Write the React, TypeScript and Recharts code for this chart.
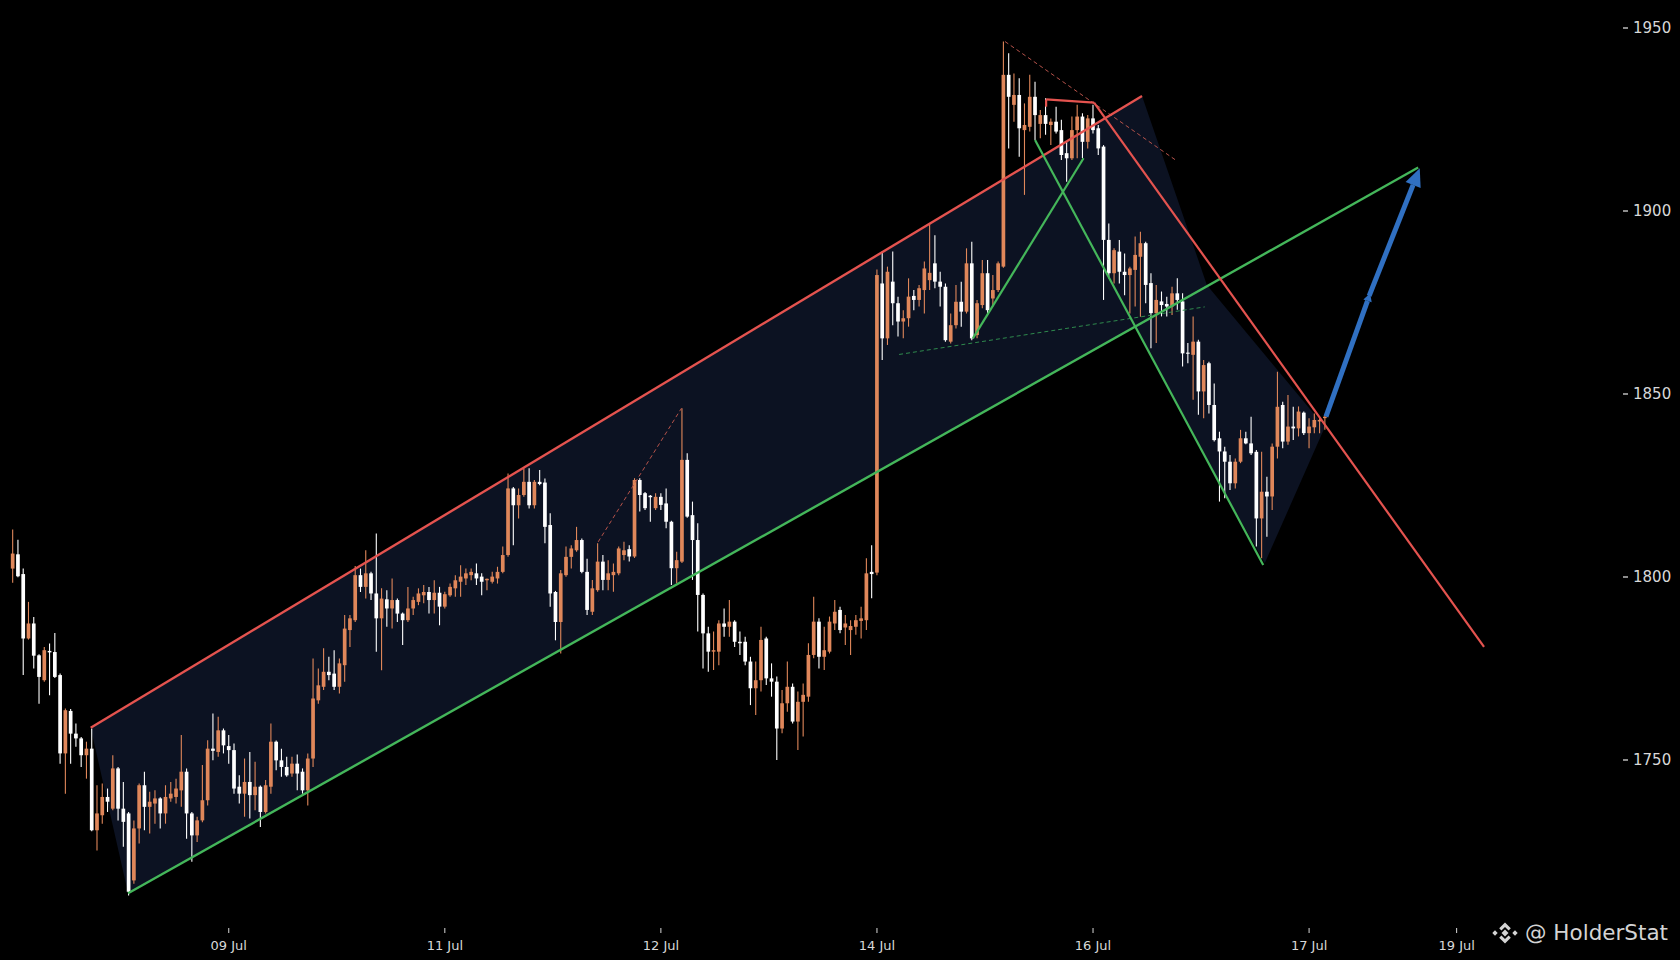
import React from 'react';
import { ComposedChart, Bar, Area, XAxis, YAxis, ReferenceLine } from 'recharts';

// hourly-ish candles, index 0..249
const opens = [
  1802.3, 1806.2, 1800.8, 1783.2, 1787.3, 1778.6, 1771.8, 1779.8, 1779.5, 1773.2,
  1751.8, 1763.4, 1757.2, 1755.9, 1751.3, 1753.1, 1730.8, 1734.9, 1739.9, 1736.7,
  1747.7, 1736.7, 1735.4, 1717.1, 1731.3, 1743.1, 1737.2, 1738.1, 1739.5, 1735.4,
  1739.5, 1739.9, 1741.7, 1746.8, 1735.4, 1729.4, 1733.5, 1739.0, 1753.1, 1752.2,
  1758.1, 1753.8, 1752.7, 1742.7, 1740.8, 1744.0, 1740.4, 1742.7, 1735.8, 1742.7,
  1755.0, 1749.9, 1748.1, 1746.3, 1749.0, 1746.8, 1741.7, 1750.4, 1766.3, 1770.0,
  1774.1, 1773.6, 1770.0, 1775.9, 1785.5, 1788.2, 1800.5, 1797.3, 1801.0, 1795.5,
  1788.7, 1793.9, 1791.4, 1793.7, 1790.0, 1788.2, 1791.4, 1793.2, 1795.0, 1795.9,
  1793.7, 1795.7, 1791.9, 1795.0, 1796.9, 1798.7, 1799.6, 1800.5, 1801.0, 1800.1,
  1799.1, 1798.7, 1799.6, 1801.4, 1806.0, 1824.2, 1819.6, 1822.4, 1826.0, 1819.6,
  1826.0, 1825.8, 1814.2, 1795.9, 1787.7, 1800.5, 1805.5, 1807.3, 1810.1, 1801.4,
  1790.5, 1796.4, 1804.2, 1799.2, 1800.5, 1801.0, 1806.0, 1807.6, 1805.6, 1826.5,
  1822.9, 1822.2, 1818.8, 1821.9, 1820.1, 1815.1, 1802.4, 1804.2, 1832.0, 1816.9,
  1810.1, 1795.1, 1784.6, 1779.6, 1779.6, 1787.3, 1786.4, 1787.8, 1782.3, 1782.3,
  1776.9, 1769.6, 1771.8, 1783.2, 1772.3, 1771.4, 1758.6, 1765.5, 1770.0, 1760.5,
  1765.9, 1767.3, 1778.7, 1787.8, 1778.2, 1779.6, 1787.3, 1791.0, 1786.2, 1785.5,
  1786.4, 1788.0, 1788.2, 1801.4, 1801.2, 1880.2, 1865.2, 1880.7, 1874.8, 1869.8,
  1870.7, 1876.8, 1875.7, 1878.4, 1881.1, 1885.7, 1880.7, 1879.3, 1864.3, 1868.8,
  1875.2, 1872.5, 1885.7, 1866.1, 1874.3, 1883.0, 1876.1, 1878.4, 1884.8, 1937.2,
  1929.0, 1931.7, 1922.1, 1923.0, 1931.2, 1923.8, 1926.2, 1923.5, 1924.4, 1922.1,
  1915.8, 1914.4, 1922.1, 1925.8, 1918.9, 1925.3, 1922.6, 1917.6, 1892.1, 1883.0,
  1888.9, 1883.4, 1882.5, 1883.9, 1887.5, 1891.2, 1880.3, 1872.1, 1875.3, 1874.6,
  1873.9, 1877.5, 1875.3, 1861.3, 1860.7, 1864.3, 1850.7, 1858.4, 1847.0, 1837.9,
  1834.3, 1831.5, 1825.6, 1831.5, 1837.9, 1836.5, 1834.2, 1816.0, 1823.3, 1822.0,
  1835.6, 1847.0, 1837.0, 1841.1, 1840.6, 1844.9, 1839.3, 1840.9, 1842.5, 1843.4,
];
const highs = [
  1813.0, 1810.2, 1802.3, 1793.2, 1789.1, 1778.9, 1780.9, 1781.8, 1784.7, 1773.6,
  1764.1, 1763.9, 1760.0, 1756.3, 1755.0, 1758.6, 1743.1, 1743.6, 1742.2, 1751.3,
  1748.1, 1744.0, 1735.8, 1733.5, 1743.6, 1746.8, 1741.3, 1741.7, 1739.8, 1743.1,
  1744.0, 1744.9, 1756.8, 1747.7, 1735.8, 1734.5, 1748.6, 1755.4, 1762.7, 1761.8,
  1758.6, 1756.8, 1754.5, 1745.8, 1750.4, 1752.2, 1749.5, 1743.0, 1744.5, 1760.0,
  1755.3, 1753.1, 1750.9, 1750.9, 1751.5, 1747.7, 1751.8, 1777.7, 1775.0, 1780.5,
  1778.2, 1780.0, 1777.7, 1789.6, 1789.6, 1803.0, 1802.3, 1807.3, 1801.4, 1811.9,
  1796.9, 1796.4, 1799.6, 1794.1, 1790.3, 1797.3, 1794.6, 1796.9, 1797.8, 1797.3,
  1799.1, 1797.3, 1796.0, 1798.2, 1800.5, 1803.2, 1802.3, 1802.3, 1803.7, 1801.0,
  1799.6, 1801.4, 1802.8, 1808.3, 1828.3, 1824.6, 1824.2, 1829.7, 1829.7, 1826.5,
  1829.2, 1826.9, 1817.4, 1796.2, 1801.9, 1808.3, 1808.7, 1813.7, 1810.5, 1805.0,
  1799.2, 1809.2, 1806.0, 1804.6, 1803.7, 1808.3, 1809.6, 1808.7, 1827.0, 1827.0,
  1823.2, 1822.4, 1822.9, 1822.9, 1824.2, 1815.4, 1806.9, 1846.1, 1833.8, 1820.6,
  1814.7, 1795.5, 1786.4, 1785.1, 1788.2, 1791.4, 1793.7, 1788.2, 1785.1, 1783.7,
  1778.2, 1776.9, 1786.4, 1783.7, 1776.4, 1772.8, 1769.1, 1776.9, 1770.9, 1768.7,
  1770.9, 1781.9, 1794.6, 1788.7, 1786.4, 1789.2, 1793.7, 1791.9, 1789.6, 1788.2,
  1789.6, 1791.9, 1805.1, 1808.7, 1884.0, 1888.9, 1884.8, 1888.9, 1876.6, 1872.9,
  1881.6, 1878.4, 1879.8, 1886.2, 1896.6, 1893.4, 1883.4, 1880.2, 1872.0, 1879.8,
  1880.7, 1889.8, 1891.6, 1875.7, 1886.6, 1886.6, 1882.5, 1886.2, 1946.3, 1943.1,
  1937.6, 1936.3, 1929.4, 1937.2, 1935.3, 1927.6, 1930.8, 1925.3, 1928.5, 1924.9,
  1918.9, 1925.8, 1929.0, 1926.7, 1926.2, 1929.0, 1923.5, 1918.0, 1896.6, 1889.8,
  1892.1, 1888.4, 1884.8, 1893.0, 1894.3, 1891.6, 1883.0, 1879.8, 1878.0, 1876.6,
  1879.3, 1881.6, 1877.5, 1863.9, 1871.2, 1864.8, 1859.3, 1858.8, 1852.9, 1839.7,
  1835.6, 1833.3, 1832.4, 1840.2, 1839.7, 1843.8, 1834.7, 1834.2, 1827.4, 1836.5,
  1856.1, 1847.9, 1849.7, 1846.5, 1846.6, 1845.2, 1843.4, 1844.7, 1843.8, 1844.3,
];
const lows = [
  1798.4, 1799.9, 1773.2, 1782.9, 1775.0, 1765.4, 1771.4, 1767.7, 1772.4, 1749.0,
  1740.8, 1749.0, 1753.6, 1748.1, 1744.9, 1730.5, 1725.3, 1732.6, 1735.8, 1736.3,
  1733.5, 1726.3, 1713.0, 1716.2, 1727.2, 1730.8, 1729.9, 1732.6, 1731.3, 1732.6,
  1738.6, 1738.1, 1737.2, 1728.5, 1722.2, 1727.6, 1733.0, 1737.6, 1749.9, 1750.9,
  1751.8, 1749.0, 1740.8, 1738.1, 1734.5, 1734.0, 1736.3, 1731.7, 1735.4, 1740.8,
  1747.2, 1745.4, 1745.4, 1745.4, 1741.7, 1740.8, 1737.6, 1748.1, 1765.4, 1769.1,
  1771.8, 1769.1, 1768.2, 1771.4, 1780.9, 1787.7, 1795.9, 1794.1, 1793.7, 1779.6,
  1774.5, 1786.4, 1785.9, 1787.7, 1781.4, 1787.7, 1789.6, 1792.3, 1792.8, 1790.0,
  1790.0, 1786.8, 1791.4, 1794.6, 1794.6, 1794.6, 1797.8, 1799.1, 1797.8, 1795.0,
  1796.4, 1798.2, 1798.2, 1801.0, 1805.5, 1808.7, 1816.0, 1821.9, 1818.7, 1818.7,
  1825.1, 1809.2, 1791.9, 1782.7, 1779.1, 1800.1, 1802.3, 1806.9, 1801.0, 1789.6,
  1789.6, 1796.0, 1796.4, 1796.4, 1796.0, 1800.5, 1804.6, 1804.2, 1805.2, 1817.9,
  1818.3, 1815.1, 1818.3, 1818.3, 1813.3, 1797.8, 1798.3, 1803.8, 1816.2, 1799.2,
  1785.1, 1775.0, 1774.1, 1774.6, 1775.9, 1783.7, 1783.7, 1780.9, 1778.7, 1775.9,
  1765.0, 1762.3, 1768.7, 1770.5, 1767.3, 1750.0, 1757.3, 1763.2, 1760.0, 1752.7,
  1756.4, 1765.9, 1777.8, 1775.0, 1774.6, 1779.1, 1785.5, 1784.6, 1781.4, 1778.7,
  1784.2, 1783.2, 1785.5, 1794.2, 1800.5, 1859.3, 1863.4, 1868.8, 1865.7, 1865.2,
  1868.4, 1872.9, 1873.9, 1872.0, 1878.4, 1878.9, 1873.9, 1864.3, 1863.8, 1867.9,
  1868.4, 1872.0, 1864.7, 1865.2, 1873.4, 1872.0, 1873.9, 1877.9, 1884.5, 1917.1,
  1924.4, 1914.8, 1904.4, 1921.7, 1919.4, 1919.9, 1920.8, 1918.0, 1921.2, 1913.9,
  1908.0, 1913.9, 1914.4, 1914.4, 1917.1, 1921.2, 1915.3, 1875.7, 1881.6, 1880.2,
  1880.2, 1877.0, 1872.0, 1873.9, 1871.1, 1874.8, 1862.5, 1863.9, 1871.2, 1871.2,
  1871.6, 1873.0, 1857.5, 1858.4, 1848.4, 1844.3, 1843.4, 1844.7, 1837.0, 1820.6,
  1821.5, 1823.8, 1824.2, 1831.1, 1836.3, 1833.3, 1808.3, 1805.1, 1811.0, 1818.3,
  1832.4, 1835.2, 1836.1, 1837.4, 1838.4, 1838.8, 1835.2, 1839.3, 1839.3, 1840.2,
];
const closes = [
  1806.4, 1800.2, 1783.2, 1787.3, 1778.5, 1772.7, 1780.0, 1779.4, 1772.7, 1751.8,
  1763.6, 1757.2, 1755.9, 1751.3, 1753.1, 1730.8, 1735.4, 1739.9, 1738.6, 1747.7,
  1736.7, 1733.1, 1714.0, 1731.3, 1743.1, 1737.2, 1738.6, 1739.5, 1735.4, 1739.9,
  1740.8, 1742.2, 1746.8, 1735.4, 1729.4, 1733.5, 1739.0, 1753.1, 1752.5, 1758.1,
  1754.0, 1752.7, 1742.2, 1740.8, 1744.0, 1740.4, 1742.7, 1735.8, 1743.1, 1755.0,
  1749.9, 1748.1, 1745.8, 1749.0, 1746.3, 1741.7, 1750.4, 1766.8, 1770.4, 1774.1,
  1773.2, 1770.0, 1776.4, 1785.9, 1788.7, 1800.5, 1797.3, 1801.0, 1795.5, 1788.7,
  1794.1, 1791.4, 1793.7, 1790.0, 1788.2, 1791.4, 1793.7, 1795.5, 1795.9, 1793.7,
  1795.7, 1791.9, 1795.3, 1797.3, 1799.1, 1800.1, 1801.0, 1801.4, 1799.6, 1798.7,
  1799.5, 1800.1, 1801.4, 1806.0, 1824.2, 1819.6, 1822.4, 1826.0, 1819.6, 1826.0,
  1825.4, 1813.7, 1795.5, 1787.7, 1801.0, 1805.5, 1807.8, 1810.1, 1801.4, 1791.0,
  1796.9, 1804.2, 1799.2, 1801.0, 1801.4, 1807.8, 1807.3, 1805.6, 1826.5, 1822.4,
  1818.8, 1821.8, 1821.9, 1819.7, 1815.1, 1802.4, 1804.6, 1832.0, 1816.5, 1810.1,
  1795.1, 1784.6, 1779.6, 1780.0, 1787.3, 1786.4, 1787.8, 1782.3, 1781.9, 1776.9,
  1769.6, 1771.8, 1782.8, 1772.3, 1771.4, 1758.6, 1765.5, 1770.0, 1760.5, 1765.9,
  1767.8, 1778.7, 1787.8, 1778.2, 1780.0, 1787.8, 1790.5, 1785.5, 1787.3, 1786.6,
  1788.2, 1788.7, 1801.0, 1800.8, 1882.5, 1865.2, 1883.4, 1874.8, 1869.8, 1870.7,
  1876.6, 1875.7, 1878.9, 1884.3, 1883.1, 1880.7, 1879.3, 1864.7, 1868.8, 1875.2,
  1872.5, 1885.7, 1865.2, 1874.8, 1883.0, 1872.9, 1878.4, 1885.7, 1937.2, 1931.2,
  1931.7, 1922.6, 1923.5, 1931.2, 1926.2, 1926.2, 1923.8, 1924.4, 1921.7, 1915.3,
  1914.4, 1922.1, 1925.8, 1918.9, 1925.3, 1922.1, 1917.1, 1892.1, 1883.0, 1889.3,
  1883.4, 1882.5, 1884.3, 1888.0, 1891.2, 1879.8, 1872.1, 1875.7, 1874.3, 1873.9,
  1877.5, 1875.7, 1861.1, 1861.0, 1864.3, 1850.7, 1857.9, 1847.0, 1837.4, 1834.3,
  1831.5, 1825.6, 1831.5, 1837.9, 1836.5, 1833.8, 1816.0, 1823.3, 1822.0, 1835.6,
  1846.5, 1837.0, 1841.1, 1840.6, 1845.2, 1839.3, 1841.1, 1842.9, 1842.9, 1843.8,
];

const tickIdx = [41, 82, 123, 164, 205, 246, 274];
const tickLabels = ['09 Jul', '11 Jul', '12 Jul', '14 Jul', '16 Jul', '17 Jul', '19 Jul'];
const priceTicks = [1750, 1800, 1850, 1900, 1950];

// drawn pattern: [index, price] end points
const redChannel = [[14.8, 1758.8], [214.3, 1931.4]];
const greenChannel = [[21.9, 1713.6], [266.7, 1911.9]];
const redFall = [[205.2, 1929.6], [279.2, 1780.9]];
const redTopA = [[196.1, 1928.5], [196.1, 1930.5]];
const redTopB = [[196.1, 1930.5], [205.2, 1929.6]];
const redDashTop = [[188.3, 1946.3], [220.8, 1913.8]];
const redDashMid = [[111.1, 1809.6], [126.9, 1846.1]];
const greenUp = [[182.2, 1865.2], [203.2, 1914.4]];
const greenDown = [[194.0, 1919.4], [237.3, 1803.3]];
const greenDash = [[168.2, 1860.8], [226.2, 1873.8]];
const arrowA = [[249.2, 1843.8], [257.6, 1877.5]];
const arrowB = [[257.4, 1876.8], [267.0, 1911.7]];

// shaded zone outline
const shadeIdx = [14.8, 21.9, 212.9, 214.3, 226.6, 237.6, 249.0];
const shadeTop = [1758.8, 1765.0, 1930.2, 1931.4, 1879.8, 1860.7, 1841.0];
const shadeBottom = [1758.8, 1713.6, 1868.4, 1864.7, 1831.7, 1803.8, 1841.0];

const UP = '#e0875a';
const DOWN = '#ffffff';
const RED = '#e4534f';
const GREEN = '#44b65a';
const BLUE = '#3070c2';
const TEXT = '#d8d8d8';
const FONT = 'DejaVu Sans';

const candles = opens.map((o, i) => ({ i, open: o, high: highs[i], low: lows[i], close: closes[i] }));
const shade = shadeIdx.map((i, k) => ({ i, band: [shadeBottom[k], shadeTop[k]] }));

const seg = (pts: number[][]) => pts.map(([x, y]) => ({ x, y }));

function Candle(props: any) {
  const { x, y, width, height, payload } = props;
  if (!payload || height == null) return null;
  const { open, close, high, low } = payload;
  const top = Math.min(y, y + height);
  const h = Math.abs(height);
  const k = h / (high - low);
  const py = (v: number) => top + (high - v) * k;
  const cx = x + width / 2;
  const color = close >= open ? UP : DOWN;
  const bodyTop = py(Math.max(open, close));
  const bodyH = Math.max(1, Math.abs(py(open) - py(close)));
  return (
    <g>
      <line x1={cx} x2={cx} y1={top} y2={top + h} stroke={color} strokeWidth={1.1} />
      <rect x={cx - 1.85} y={bodyTop} width={3.7} height={bodyH} fill={color} />
    </g>
  );
}

function arrowShape(head: number, ratio: number) {
  return (props: any) => {
    const { x1, y1, x2, y2 } = props;
    const ang = Math.atan2(y2 - y1, x2 - x1);
    const bx = x2 - Math.cos(ang) * head;
    const by = y2 - Math.sin(ang) * head;
    const w = head * ratio;
    const nx = -Math.sin(ang) * w;
    const ny = Math.cos(ang) * w;
    return (
      <g>
        <line x1={x1} y1={y1} x2={bx} y2={by} stroke={BLUE} strokeWidth={5} />
        <polygon points={`${x2},${y2} ${bx + nx},${by + ny} ${bx - nx},${by - ny}`} fill={BLUE} />
      </g>
    );
  };
}

const XTick = ({ x, y, payload }: any) => {
  const k = tickIdx.indexOf(payload.value);
  return (
    <g>
      <line x1={x} x2={x} y1={y - 2} y2={y + 3} stroke={TEXT} strokeWidth={1} />
      <text x={x} y={y + 20} textAnchor="middle" fill={TEXT} fontSize={13} fontFamily={FONT}>
        {tickLabels[k]}
      </text>
    </g>
  );
};

const YTick = ({ x, y, payload }: any) => (
  <g>
    <line x1={x + 3} x2={x + 8} y1={y} y2={y} stroke={TEXT} strokeWidth={1.3} />
    <text x={x + 13} y={y} dy="0.36em" fill={TEXT} fontSize={15} fontFamily={FONT}>
      {payload.value}
    </text>
  </g>
);

function Logo() {
  return (
    <svg width={28} height={28} viewBox="0 0 28 28" style={{ position: 'absolute', left: 1491, top: 919 }}>
      <g fill="#d4d4d4">
        <polygon points="14,10.5 17.5,14 14,17.5 10.5,14" />
        <polygon points="4,11.3 6.7,14 4,16.7 1.3,14" />
        <polygon points="24,11.3 26.7,14 24,16.7 21.3,14" />
        <polygon points="8.2,9.3 14,3.5 19.8,9.3 17.6,11.5 14,7.9 10.4,11.5" />
        <polygon points="8.2,18.7 14,24.5 19.8,18.7 17.6,16.5 14,20.1 10.4,16.5" />
      </g>
    </svg>
  );
}

export default function App() {
  return (
    <div style={{ position: 'relative', width: 1680, height: 960, background: '#000' }}>
      <style>{'body{margin:0;background:#000;}'}</style>
      <ComposedChart width={1680} height={960} data={candles} margin={{ top: 0, right: 0, bottom: 0, left: 0 }}>
        <XAxis
          dataKey="i"
          type="number"
          domain={[-2.41, 305]}
          allowDataOverflow
          ticks={tickIdx}
          interval={0}
          tick={<XTick />}
          tickLine={false}
          axisLine={false}
          tickSize={0}
          tickMargin={0}
          height={30}
        />
        <YAxis
          orientation="right"
          type="number"
          domain={[1703.55, 1957.65]}
          allowDataOverflow
          ticks={priceTicks}
          interval={0}
          tick={<YTick />}
          tickLine={false}
          axisLine={false}
          tickSize={0}
          tickMargin={0}
          width={60}
        />
        <Area
          data={shade}
          dataKey="band"
          type="linear"
          stroke="none"
          fill="#0c1222"
          fillOpacity={1}
          dot={false}
          activeDot={false}
          isAnimationActive={false}
        />
        <Bar dataKey={(d: any) => [d.low, d.high]} barSize={4} shape={<Candle />} isAnimationActive={false} />
        <ReferenceLine segment={seg(redDashMid)} stroke="#b5524a" strokeWidth={1} strokeDasharray="4 3" />
        <ReferenceLine segment={seg(redDashTop)} stroke="#b5524a" strokeWidth={1} strokeDasharray="4 3" />
        <ReferenceLine segment={seg(greenDash)} stroke="#2e8a4d" strokeWidth={1} strokeDasharray="4 3" />
        <ReferenceLine segment={seg(redChannel)} stroke={RED} strokeWidth={2.4} />
        <ReferenceLine segment={seg(greenChannel)} stroke={GREEN} strokeWidth={2.4} />
        <ReferenceLine segment={seg(redFall)} stroke={RED} strokeWidth={2.2} />
        <ReferenceLine segment={seg(redTopA)} stroke={RED} strokeWidth={2.2} />
        <ReferenceLine segment={seg(redTopB)} stroke={RED} strokeWidth={2.2} />
        <ReferenceLine segment={seg(greenUp)} stroke={GREEN} strokeWidth={2.2} />
        <ReferenceLine segment={seg(greenDown)} stroke={GREEN} strokeWidth={2.2} />
        <ReferenceLine segment={seg(arrowA)} shape={arrowShape(8, 0.55)} />
        <ReferenceLine segment={seg(arrowB)} shape={arrowShape(18, 0.45)} />
      </ComposedChart>
      <Logo />
      <div
        style={{
          position: 'absolute',
          left: 1525,
          top: 918,
          fontFamily: FONT,
          fontSize: 21.5,
          color: '#d4d4d4',
          lineHeight: '30px',
          whiteSpace: 'nowrap',
        }}
      >
        @ HolderStat
      </div>
    </div>
  );
}
